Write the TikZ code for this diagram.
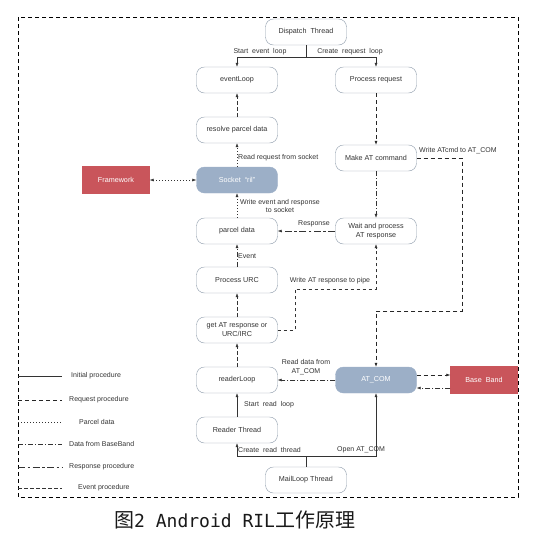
\documentclass[tikz,border=0pt]{standalone}
\usepackage{fontspec}
\setmainfont{Liberation Sans}
\newfontfamily\cjk{Noto Sans CJK SC}
\newfontfamily\capmono{DejaVu Sans Mono}
\usepackage{tikz}
\usetikzlibrary{arrows.meta,calc,positioning}

\definecolor{boxline}{HTML}{8E9BAA}
\definecolor{sockblue}{HTML}{9CAFC7}
\definecolor{hwred}{HTML}{C9555B}
\definecolor{txtgray}{HTML}{333333}

\tikzset{
  proc/.style={draw=boxline, rounded corners=8pt, minimum width=81pt, minimum height=26pt,
               inner sep=0pt, align=center, font=\fontsize{7.2}{9}\selectfont, text=txtgray},
  sockbox/.style={proc, fill=sockblue, draw=sockblue, text=white},
  hwbox/.style={draw=hwred, fill=hwred, minimum width=67pt, minimum height=27pt,
                inner sep=0pt, font=\fontsize{7.2}{9}\selectfont, text=white},
  lbl/.style={inner sep=1pt, align=center, font=\fontsize{7}{8.5}\selectfont, text=txtgray},
  tip/.style={-{Latex[length=4pt,width=3pt]}},
  initline/.style={line width=0.5pt, black!80},
  reqline/.style={line width=0.6pt, black!85, dash pattern=on 4pt off 3pt},
  parline/.style={line width=0.5pt, black!80, dash pattern=on 1pt off 2pt},
  bbline/.style={line width=0.5pt, black!80, dash pattern=on 5pt off 2pt on 1pt off 2pt},
  rspline/.style={line width=0.5pt, black!80, dash pattern=on 7pt off 2.5pt on 2.5pt off 2.5pt},
  evtline/.style={line width=0.5pt, black!80, dash pattern=on 3.5pt off 2.5pt}
}

\begin{document}
\begin{tikzpicture}[x=1pt, y=-1pt]
  % fixed page size (pixel grid of the figure)
  \useasboundingbox (0,0) rectangle (537,541);

  % ---- outer frame ----
  \draw[line width=0.7pt, black, dash pattern=on 4pt off 3pt] (18,17) rectangle (518,497);

  % ---- threads and procedures ----
  \node[proc] (dispatch) at (306,32) {Dispatch\ \ Thread};
  \node[proc] (eventloop) at (237,80) {eventLoop};
  \node[proc] (procreq) at (376,80) {Process request};
  \node[proc] (resolve) at (237,130) {resolve parcel data};
  \node[proc] (makeat) at (376,158) {Make AT command};
  \node[sockbox] (socket) at (237,180) {Socket\ \ ``ril''};
  \node[hwbox] (framework) at (116,180) {Framework};
  \node[proc] (parcel) at (237,231) {parcel data};
  \node[proc] (waitat) at (376,231) {Wait and process\\AT response};
  \node[proc] (urc) at (237,280) {Process URC};
  \node[proc] (getat) at (237,330) {get AT response or\\URC/IRC};
  \node[proc] (readerloop) at (237,380) {readerLoop};
  \node[sockbox] (atcom) at (376,380) {AT\_COM};
  \node[hwbox] (baseband) at (484,380) {Base\ \ Band};
  \node[proc] (readerthread) at (237,430) {Reader Thread};
  \node[proc] (mailloop) at (306,480) {MailLoop Thread};

  % ---- initial procedure ----
  \draw[initline] (dispatch.south) -- ++(0,12) coordinate (split1);
  \draw[initline, tip] (split1) -| (eventloop.north);
  \draw[initline, tip] (split1) -| (procreq.north);
  \node[lbl, anchor=south] (lstartev) at (260,56) {Start\ \ event\ \ loop};
  \node[lbl, anchor=south] (lcreatereq) at (350,56) {Create\ \ request\ \ loop};

  \draw[initline] (mailloop.north) -- ++(0,-11) coordinate (split2);
  \draw[initline, tip] (split2) -| (readerthread.south);
  \draw[initline, tip] (split2) -| (atcom.south);
  \node[lbl, anchor=south west] (lcreaterd) at (237,454) {Create\ \ read\ \ thread};
  \node[lbl, anchor=south west] (lopenat) at (336,454) {Open AT\_COM};

  \draw[initline, tip] (readerthread) -- (readerloop);
  \node[lbl, anchor=west] (lstartrd) at (243,405) {Start\ \ read\ \ loop};

  % ---- request procedure ----
  \draw[reqline, tip] (procreq) -- (makeat);
  \coordinate (atbend) at (462,311);
  \draw[reqline, tip] (makeat.east) -| (atbend) -| (atcom.north);
  \node[lbl, anchor=south west] (lwriteat) at (418,155) {Write ATcmd to AT\_COM};
  \draw[reqline, tip] (atcom.east |- 0,375) -- (baseband.west |- 0,375);

  % ---- parcel data ----
  \draw[parline, tip] (socket) -- (resolve);
  \node[lbl, anchor=west] (lreadreq) at (237,158) {Read request from socket};
  \draw[parline, {Latex[length=4pt,width=3pt]}-{Latex[length=4pt,width=3pt]}] (framework) -- (socket);
  \draw[parline, tip] (parcel) -- (socket);
  \node[lbl] (lwriteev) at (280,206) {Write event and response\\to socket};

  % ---- data from baseband ----
  \draw[bbline, tip] (atcom) -- (readerloop);
  \node[lbl] (lreaddata) at (306,367) {Read data from\\AT\_COM};
  \draw[bbline, tip] (baseband.west |- 0,388) -- (atcom.east |- 0,388);

  % ---- response procedure ----
  \draw[bbline, tip] (makeat) -- (waitat);
  \draw[rspline, tip] (waitat) -- (parcel);
  \node[lbl, anchor=south] (lresp) at (314,228) {Response};
  \coordinate (pipebend) at (295,289);
  \draw[evtline, tip] (getat.east) -| (pipebend) -| (waitat.south);
  \node[lbl] (lpipe) at (330,281) {Write AT response to pipe};

  % ---- event procedure ----
  \draw[evtline, tip] (readerloop) -- (getat);
  \draw[evtline, tip] (getat) -- (urc);
  \draw[bbline, tip] (urc) -- (parcel);
  \node[lbl, anchor=west] (levent) at (237,256) {Event};
  \draw[evtline, tip] (resolve) -- (eventloop);

  % ---- legend ----
  \foreach \yy/\st/\tx/\name/\txt in {376/initline/70/lginit/Initial procedure,
      400/reqline/68/lgreq/Request procedure,
      422/parline/78/lgpar/Parcel data,
      444/bbline/68/lgbb/Data from BaseBand,
      467/rspline/68/lgrsp/Response procedure,
      488/evtline/77/lgevt/Event procedure} {
    \draw[\st] (18,\yy) -- (62,\yy);
    \node[lbl, anchor=west] (\name) at (\tx,\yy) {\txt};
  }

  % ---- caption ----
  \node[inner sep=0pt, anchor=west, text=black!90] (caption) at (114,520)
    {{\cjk\fontsize{20}{22}\selectfont 图}{\capmono\fontsize{18}{22}\selectfont 2 Android RIL}{\cjk\fontsize{20}{22}\selectfont 工作原理}};

\end{tikzpicture}
\end{document}
